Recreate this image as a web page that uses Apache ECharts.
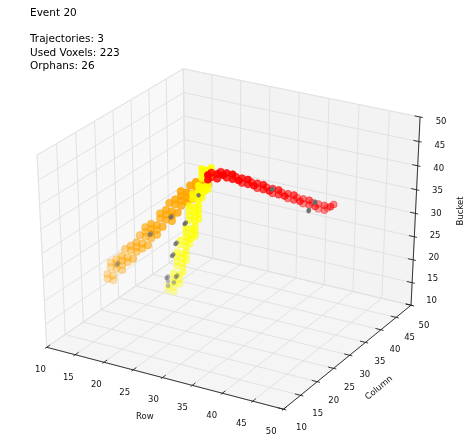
<!DOCTYPE html>
<html>
<head>
<meta charset="utf-8">
<script src="https://cdn.jsdelivr.net/npm/echarts@6/dist/echarts.min.js"></script>
<style>
html,body{margin:0;padding:0;background:#ffffff;}
#chart{width:474px;height:439px;}
</style>
</head>
<body>
<div id="chart"></div>
<script>
// ---------------- data ----------------
const eventNumber = 20;
const trajectoryCount = 3;
const usedVoxelCount = 223;
const orphanCount = 26;

const rowTicks = [10, 15, 20, 25, 30, 35, 40, 45, 50];
const columnTicks = [10, 15, 20, 25, 30, 35, 40, 45, 50];
const bucketTicks = [10, 15, 20, 25, 30, 35, 40, 45, 50];
const rowRange = [10, 50];
const columnRange = [10, 50];
const bucketRange = [10, 50];

// voxels as [row, column, bucket]
const redTrack = [
  [26,30,41],[26,31,41],[26,30,40],[26,31,40],
  [27,31,41],[27,31,40],[27,32,41],
  [28,31,41],[28,32,41],[28,32,40],
  [29,32,41],[29,32,40],[29,33,40],
  [30,32,40],[30,33,40],[30,33,39],
  [31,33,40],[31,33,39],[31,34,39],
  [32,33,39],[32,34,39],[32,34,38],
  [33,34,39],[33,34,38],[33,35,38],
  [34,34,38],[34,35,38],[34,35,37],
  [35,35,38],[35,35,37],[35,36,37],
  [36,35,37],[36,36,37],[36,36,36],
  [37,36,37],[37,36,36],[37,37,36],
  [38,36,36],[38,37,36],[38,37,35],
  [39,37,36],[39,37,35],[39,38,35],
  [40,37,35],[40,38,35],[40,38,34],
  [41,38,35],[41,38,34],[41,39,34],
  [42,38,35],[42,39,35]
];

const orangeTrack = [
  [24,30,39],[25,30,39],[26,30,39],
  [23,30,38],[24,30,38],[25,30,38],
  [22,29,37],[23,29,37],[24,29,37],
  [22,29,36],[23,29,36],[24,29,36],
  [21,29,35],[22,29,35],[23,29,35],
  [20,29,34],[21,29,34],[22,29,34],
  [20,28,33],[21,28,33],[22,28,33],
  [19,28,32],[20,28,32],[21,28,32],
  [19,28,31],[20,28,31],[21,28,31],
  [18,27,30],[19,27,30],[20,27,30],
  [17,27,29],[18,27,29],[19,27,29],
  [17,27,28],[18,27,28],[19,27,28],
  [16,27,27],[17,27,27],[18,27,27],
  [16,26,26],[17,26,26],[18,26,26],
  [15,26,25],[16,26,25],[17,26,25],
  [14,26,24],[15,26,24],[16,26,24],
  [14,25,23],[15,25,23],[16,25,23],
  [13,25,22],[14,25,22],[15,25,22],
  [12,25,21],[13,25,21],[14,25,21],
  [12,25,20],[13,25,20],[14,25,20],
  [12,24,19],[13,24,19],
  [12,24,18],[13,24,18]
];

const yellowTrack = [
  [25,30,42],[26,30,42],[26,31,42],
  [25,30,41],[26,30,41],[26,31,41],
  [25,30,40],[26,30,40],[26,31,40],
  [25,29,39],[26,29,39],[26,30,39],
  [25,29,38],[26,29,38],[26,30,38],
  [24,29,37],[25,29,37],[25,30,37],
  [24,29,36],[25,29,36],[25,30,36],
  [24,28,35],[25,28,35],[25,29,35],
  [24,28,34],[25,28,34],[25,29,34],
  [24,28,33],[25,28,33],[25,29,33],
  [24,28,32],[25,28,32],[25,29,32],
  [24,27,31],[25,27,31],[25,28,31],
  [24,27,30],[25,27,30],[25,28,30],
  [24,27,29],[25,27,29],[25,28,29],
  [23,27,28],[24,27,28],[24,28,28],
  [23,27,27],[24,27,27],[24,28,27],
  [23,26,26],[24,26,26],[24,27,26],
  [23,26,25],[24,26,25],[24,27,25],
  [23,26,24],[24,26,24],[24,27,24],
  [23,26,23],[24,26,23],
  [23,25,22],[24,25,22],[24,26,22],
  [23,25,21],[24,25,21],
  [23,25,20],[24,25,20],
  [22,25,19],[23,25,19],
  [22,25,18],[23,25,18]
];

const orphanVoxels = [
  [34,35,38],[40,37,36],[39,37,34],[25,29,37],[21,28,32],
  [18,27,28],[14,24,22],[24,27,32],[23,26,28],[23,25,26],
  [22,25,21],[23,26,21],[23,25,20],[22,25,20],[22,25,19],
  [35,33,39],[41,35,37],[40,35,35],[22,26,33],[19,25,29],
  [15,22,23],[25,25,33],[24,24,29],[24,23,27],[23,23,22],
  [24,24,22]
];

// ---------------- view (matplotlib-like 3D projection) ----------------
const ELEV = 30, AZIM = -60, DIST = 10;
const el = ELEV * Math.PI / 180, az = AZIM * Math.PI / 180;
const CEN = [0.5, 0.5, 0.5];
const EYE = [CEN[0] + Math.cos(az) * Math.cos(el) * DIST,
             CEN[1] + Math.sin(az) * Math.cos(el) * DIST,
             CEN[2] + Math.sin(el) * DIST];
const sub = (a, b) => [a[0]-b[0], a[1]-b[1], a[2]-b[2]];
const dot = (a, b) => a[0]*b[0] + a[1]*b[1] + a[2]*b[2];
const cross = (a, b) => [a[1]*b[2]-a[2]*b[1], a[2]*b[0]-a[0]*b[2], a[0]*b[1]-a[1]*b[0]];
const unit = a => { const m = Math.hypot(a[0], a[1], a[2]); return [a[0]/m, a[1]/m, a[2]/m]; };
const N = unit(sub(EYE, CEN));
const U = unit(cross([0, 0, 1], N));
const V = cross(N, U);

function project(r, c, z) {
  const p = [(r - rowRange[0]) / (rowRange[1] - rowRange[0]),
             (c - columnRange[0]) / (columnRange[1] - columnRange[0]),
             (z - bucketRange[0]) / (bucketRange[1] - bucketRange[0])];
  const q = sub(p, EYE);
  const w = -dot(N, q);
  return [dot(U, q) / w, dot(V, q) / w, -DIST / w];
}

// screen placement of the projected view
const PX0 = 231.7, PXS = 2733, PY0 = 233.2, PYS = 2195;
const W = 474, H = 439;

// ---------------- frame ----------------
const FONT = 'DejaVu Sans';
const TICK_OUT = 0.45, TICK_IN = 0.9, TICK_LABEL_GAP = 2.6, NAME_GAP = 5;
const LABEL_DY = 2.3;

function frameRender(params, api) {
  const P = (r, c, z) => { const t = project(r, c, z); return api.coord([t[0], t[1]]); };
  const [r0, r1] = rowRange, [c0, c1] = columnRange, [z0, z1] = bucketRange;
  const rm = (r0 + r1) / 2, cm = (c0 + c1) / 2, zm = (z0 + z1) / 2;
  const kids = [];
  const poly = (pts, fill, stroke) => kids.push({
    type: 'polygon', shape: { points: pts.map(p => P(p[0], p[1], p[2])) },
    style: { fill: fill, stroke: stroke, lineWidth: 1 }
  });
  const line = (pts, stroke, w) => kids.push({
    type: 'polyline', shape: { points: pts.map(p => P(p[0], p[1], p[2])) },
    style: { stroke: stroke, lineWidth: w, fill: null }
  });
  const text = (pos, str, size, rot) => kids.push({
    type: 'text', x: pos[0], y: pos[1] + LABEL_DY, rotation: rot || 0,
    style: { text: str, fontSize: size, fontFamily: FONT, fill: '#111111', align: 'center', verticalAlign: 'middle' }
  });

  // panes
  poly([[r0,c0,z0],[r0,c1,z0],[r0,c1,z1],[r0,c0,z1]], '#f8f8f8', '#f0f0f0');
  poly([[r0,c1,z0],[r1,c1,z0],[r1,c1,z1],[r0,c1,z1]], '#f3f3f3', '#ebebeb');
  poly([[r0,c0,z0],[r1,c0,z0],[r1,c1,z0],[r0,c1,z0]], '#f5f5f5', '#eeeeee');

  // grid lines
  const GRID = '#e2e2e2';
  rowTicks.forEach(t => line([[t,c0,z0],[t,c1,z0],[t,c1,z1]], GRID, 1));
  columnTicks.forEach(t => line([[r0,t,z1],[r0,t,z0],[r1,t,z0]], GRID, 1));
  bucketTicks.forEach(t => line([[r0,c0,t],[r0,c1,t],[r1,c1,t]], GRID, 1));

  // axis lines
  const AX = '#222222';
  line([[r0,c0,z0],[r1,c0,z0]], AX, 0.9);
  line([[r1,c0,z0],[r1,c1,z0]], AX, 0.9);
  line([[r1,c1,z0],[r1,c1,z1]], AX, 0.9);

  // ticks and tick labels (labels slightly pulled toward the axis middle)
  rowTicks.forEach(t => {
    line([[t, c0 - TICK_OUT, z0],[t, c0 + TICK_IN, z0]], AX, 0.9);
    text(P(rm + (t - rm) * 0.975, c0 - TICK_LABEL_GAP, z0 - 2.9), String(t), 8.5);
  });
  columnTicks.forEach(t => {
    line([[r1 + TICK_OUT, t, z0],[r1 - TICK_IN, t, z0]], AX, 0.9);
    text(P(r1 + TICK_LABEL_GAP, cm + (t - cm) * 0.97, z0 - 2.9), String(t), 8.5);
  });
  bucketTicks.forEach(t => {
    line([[r1 + TICK_OUT, c1, t],[r1 - TICK_IN, c1, t]], AX, 0.9);
    text(P(r1 + 2.3, c1 + 2.3, zm + (t - zm) * 0.95), String(t), 8.5);
  });

  // axis names
  text(P(rm, c0 - NAME_GAP, z0 - NAME_GAP), 'Row', 8.5, 0);
  const a = P(r1, c0, z0), b = P(r1, c1, z0);
  const colAngle = -Math.atan2(b[1] - a[1], b[0] - a[0]);
  text(P(r1 + NAME_GAP, cm, z0 - NAME_GAP), 'Column', 8.5, colAngle);
  text(P(r1 + NAME_GAP, c1 + NAME_GAP, zm), 'Bucket', 8.5, Math.PI / 2);

  return { type: 'group', children: kids };
}

// ---------------- scatter (depth shaded like matplotlib) ----------------
function scatterSeries(name, voxels, color, size) {
  const pr = voxels.map(v => project(v[0], v[1], v[2]));
  const zs = pr.map(p => p[2]);
  const zmin = Math.min.apply(null, zs), zmax = Math.max.apply(null, zs);
  const items = pr.map(p => ({
    d: p[2],
    value: [p[0], p[1]],
    itemStyle: { opacity: 1 - 0.7 * (zmax > zmin ? (p[2] - zmin) / (zmax - zmin) : 0) }
  }));
  items.sort((x, y) => y.d - x.d);
  return {
    name: name, type: 'scatter', silent: true, animation: false,
    symbol: 'circle', symbolSize: size,
    itemStyle: { color: color, borderColor: color, borderWidth: 0.7 },
    data: items.map(it => ({ value: it.value, itemStyle: it.itemStyle })),
    z: 3
  };
}

const chart = echarts.init(document.getElementById('chart'), null, { renderer: 'canvas' });
chart.setOption({
  animation: false,
  backgroundColor: '#ffffff',
  grid: { left: 0, right: 0, top: 0, bottom: 0 },
  xAxis: { type: 'value', min: (0 - PX0) / PXS, max: (W - PX0) / PXS, show: false },
  yAxis: { type: 'value', min: (PY0 - H) / PYS, max: PY0 / PYS, show: false },
  graphic: [{
    type: 'text', left: 30, top: 6.5,
    style: {
      text: ['Event ' + eventNumber, '', 'Trajectories: ' + trajectoryCount,
             'Used Voxels: ' + usedVoxelCount, 'Orphans: ' + orphanCount].join('\n'),
      fontSize: 10.5, fontFamily: FONT, lineHeight: 13.3, fill: '#000000'
    }
  }],
  series: [
    { type: 'custom', silent: true, animation: false, clip: false, z: 1,
      renderItem: frameRender, data: [[0, 0]] },
    scatterSeries('orange', orangeTrack, '#ffa500', 7.5),
    scatterSeries('yellow', yellowTrack, '#ffff00', 6.5),
    scatterSeries('red', redTrack, '#ff0000', 7),
    scatterSeries('orphans', orphanVoxels, '#6a6a6a', 3.8)
  ]
});
</script>
</body>
</html>
